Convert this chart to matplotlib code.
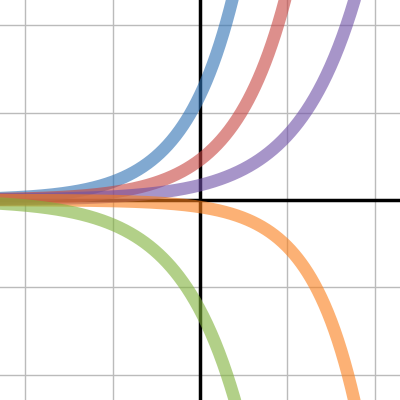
import numpy as np
import matplotlib
matplotlib.use("Agg")
import matplotlib.pyplot as plt

# y = a * exp(b * x) (1 grid square = 1 unit)
names = ["blue", "red", "purple", "orange", "green"]
amps = [1.2, 0.46, 0.17, -0.08, -1.26]
rates = [1.75, 1.65, 1.47, 1.9, 1.5]
colors = ["#2d70b3", "#c74440", "#6d4ea6", "#fa7e19", "#7fb239"]

lim = 2.29
x = np.linspace(-lim, lim, 600)

fig = plt.figure(figsize=(4, 4), dpi=100)
ax = fig.add_axes([0, 0, 1, 1])
ax.set_xlim(-lim, lim)
ax.set_ylim(-lim, lim)

for v in [-2, -1, 1, 2]:
    ax.axvline(v, color="#bbbbbb", lw=1, zorder=0)
    ax.axhline(v, color="#bbbbbb", lw=1, zorder=0)
ax.axvline(0, color="black", lw=2.5, zorder=1)
ax.axhline(0, color="black", lw=2.5, zorder=1)

for a, b, c in zip(amps, rates, colors):
    ax.plot(x, a * np.exp(b * x), color=c, lw=9, alpha=0.6,
            solid_capstyle="round", zorder=2)

ax.set_xticks([])
ax.set_yticks([])
for s in ax.spines.values():
    s.set_visible(False)

fig.savefig("out.png", dpi=100)
